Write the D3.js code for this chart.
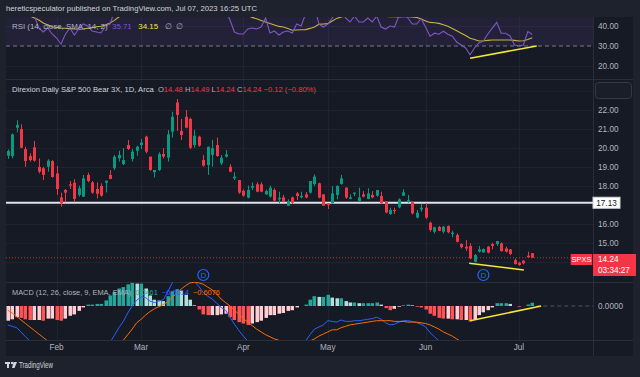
<!DOCTYPE html>
<html><head><meta charset="utf-8">
<script src="https://cdn.jsdelivr.net/npm/d3@7"></script>
<style>html,body{margin:0;padding:0;background:#1e222d;} svg{display:block;font-family:"Liberation Sans",Arial,sans-serif;}</style>
</head><body><svg id="c" width="640" height="377"></svg>
<script>
// ---------- DATA ----------
const opens  = [19.60,19.58,21.07,21.00,19.95,19.58,20.04,19.01,18.94,19.02,19.32,18.67,17.41,17.80,18.10,18.18,17.54,17.45,18.59,18.20,17.85,18.01,18.18,18.59,18.94,19.46,19.16,20.16,19.43,19.86,20.16,20.60,19.55,18.73,18.85,19.69,19.50,20.86,22.40,20.90,21.65,21.53,20.16,20.60,19.37,19.11,19.64,20.16,19.20,19.55,19.02,18.41,18.32,17.76,17.40,17.92,18.10,18.10,17.57,17.45,17.80,17.31,17.41,16.97,17.41,17.62,17.41,17.57,17.66,18.11,18.15,17.57,17.10,17.10,17.54,18.11,17.92,17.33,17.60,17.22,17.57,17.33,17.54,17.50,17.48,17.19,16.54,16.75,16.89,17.50,17.19,17.19,16.35,16.78,16.87,16.08,15.61,15.86,15.61,15.91,15.49,15.44,14.96,14.82,14.86,14.03,14.56,14.52,14.82,14.96,14.96,15.00,14.73,14.68,14.12,13.98,14.09,14.35,14.48];
const highs  = [19.93,20.77,21.46,21.25,20.07,19.72,20.37,19.46,19.02,19.41,19.37,19.06,17.66,17.85,18.27,18.36,18.03,18.59,18.71,18.27,18.20,18.15,18.29,18.85,19.64,19.86,19.99,20.43,19.95,20.13,20.48,20.65,19.55,18.85,19.78,19.99,20.95,21.91,22.58,21.53,22.00,21.60,20.95,20.65,19.64,20.07,20.43,20.55,19.64,19.90,19.15,18.73,18.32,17.83,18.03,18.20,18.20,18.20,17.83,18.03,17.89,17.71,17.54,17.31,17.45,17.69,17.71,17.69,18.27,18.62,18.18,17.57,17.10,18.01,18.05,18.59,17.94,17.57,17.68,17.92,17.74,17.89,17.74,17.80,17.71,17.22,16.87,16.87,17.36,17.83,17.54,17.19,16.75,17.06,17.10,16.14,15.87,15.91,15.91,15.94,15.66,15.52,15.00,15.17,15.00,14.44,14.86,14.73,14.86,15.03,15.12,15.05,14.82,14.70,14.21,14.03,14.12,14.56,14.49];
const lows   = [19.43,19.46,20.83,19.99,19.02,19.29,19.29,18.67,18.32,18.76,18.45,17.54,16.92,17.15,17.85,17.19,17.45,17.43,18.20,17.60,17.36,17.45,17.67,18.36,18.85,19.29,19.11,19.90,19.29,19.60,19.95,19.72,18.80,18.45,18.80,19.46,19.29,20.55,20.90,20.43,21.04,19.95,20.02,20.07,19.02,18.59,19.02,19.55,19.11,19.50,18.73,18.32,17.60,17.45,17.36,17.80,17.68,17.68,17.54,17.40,17.19,17.10,17.15,16.96,17.06,17.27,17.36,17.36,17.62,18.01,17.36,16.97,16.80,17.10,17.31,18.08,17.33,17.31,17.48,17.19,17.41,17.31,17.36,17.45,17.08,16.57,16.49,16.54,16.84,17.48,17.13,16.52,16.31,16.66,16.28,15.61,15.52,15.64,15.52,15.52,15.31,15.05,14.73,14.60,14.16,14.00,14.51,14.51,14.47,14.68,14.86,14.56,14.51,14.38,13.89,13.82,13.89,14.26,14.24];
const closes = [19.85,20.72,21.21,20.02,19.32,19.37,19.34,18.76,18.59,19.34,18.48,17.85,17.10,17.66,18.03,17.33,17.89,18.41,18.27,17.66,17.60,17.50,18.29,18.38,19.55,19.64,19.37,19.95,19.81,20.07,20.29,19.81,18.85,18.85,19.69,19.55,20.72,21.65,21.74,20.69,21.07,20.02,20.65,20.13,19.08,20.07,19.99,19.58,19.50,19.67,18.76,18.50,17.66,17.50,17.80,18.01,17.71,17.71,17.75,17.92,17.24,17.39,17.19,17.19,17.13,17.48,17.50,17.41,18.27,18.50,17.40,16.97,17.01,17.62,18.01,18.41,17.40,17.41,17.66,17.41,17.45,17.62,17.41,17.80,17.10,16.62,16.75,16.69,17.31,17.68,17.27,16.57,16.61,16.87,16.35,15.70,15.84,15.66,15.87,15.58,15.56,15.08,14.79,14.73,14.21,14.38,14.68,14.70,14.51,14.86,15.12,14.59,14.56,14.44,13.91,13.86,13.95,14.26,14.24];

const rsi   = [58,64,66,52,46,46,45,39,37,39,36,34,31,36,39,35.5,38.5,41,40,37.5,37,36.5,40,41,47,48,47,50,48,51,52,50,46,47,51,51,57,64,58,56,57,50,53,51,47,50,51,48.5,47.5,48,43,37,36,36,38.5,39,38.5,39.5,44,36.5,37.5,35.5,37,37.5,36.5,41,40,46,47,50,41,39.5,41,44,47,49,44,42,45,42,42,44,42,45,39.5,38.5,40,39.5,45,47,44,41,41,43.8,39.4,34.9,36.4,35.9,37.4,35.9,34.9,32,30.5,29,25.6,29,31.5,32.5,36,38.9,41.8,36.4,36.4,35,30.5,30,30.5,37.2,35.71];
const rsiMA = [52,51,50,49,47,45,44,43,41.5,40.5,39.5,39.4,39,38.9,38.7,38.5,38.4,38.5,38.9,39.2,39.6,39.9,40.5,41.5,42.8,44.5,45.5,46.5,47.5,48,48.5,49,49,49.5,50,50,50.5,51,51.5,52,52,52,52.2,52.3,52,51.5,51,50.5,50,49.5,49,48,47,46,45.2,44.3,43.6,42.8,42,41.2,40.5,39.8,39.5,38.8,37.9,38,38.1,38.2,38.8,39.5,40.8,41,41.2,42.5,43.8,44.5,45,45.5,46,46.5,46.5,46.5,46,45.5,45,44.8,44.7,44.6,44.5,44.6,44.6,44.5,44.3,43.5,42.5,41.8,41.6,41.3,40.6,39.9,38.8,37.6,36.4,35.2,33.9,33.2,32.5,32.6,32.8,33,33,33,33,33,32.8,32.5,32.6,33.2,34.15];
const macd  = [-0.27,-0.29,-0.31,-0.37,-0.44,-0.50,-0.55,-0.60,-0.66,-0.68,-0.72,-0.78,-0.84,-0.85,-0.84,-0.85,-0.82,-0.77,-0.73,-0.72,-0.71,-0.70,-0.63,-0.52,-0.42,-0.31,-0.22,-0.10,0.00,0.08,0.13,0.12,0.07,0.05,0.07,0.09,0.20,0.33,0.42,0.46,0.45,0.42,0.35,0.28,0.19,0.14,0.10,0.04,-0.02,-0.06,-0.16,-0.26,-0.35,-0.43,-0.50,-0.53,-0.56,-0.58,-0.58,-0.57,-0.60,-0.60,-0.61,-0.60,-0.60,-0.56,-0.53,-0.50,-0.41,-0.33,-0.30,-0.27,-0.21,-0.22,-0.23,-0.20,-0.22,-0.22,-0.21,-0.21,-0.20,-0.19,-0.18,-0.16,-0.19,-0.24,-0.27,-0.26,-0.23,-0.21,-0.21,-0.22,-0.24,-0.26,-0.30,-0.38,-0.44,-0.50,-0.55,-0.58,-0.62,-0.66,-0.71,-0.74,-0.80,-0.80,-0.77,-0.74,-0.72,-0.68,-0.62,-0.61,-0.60,-0.60,-0.63,-0.64,-0.63,-0.60,-0.5614];
const signal= [-0.06,-0.10,-0.15,-0.20,-0.25,-0.30,-0.35,-0.40,-0.45,-0.50,-0.54,-0.58,-0.63,-0.67,-0.70,-0.73,-0.75,-0.75,-0.75,-0.74,-0.74,-0.73,-0.71,-0.67,-0.62,-0.56,-0.49,-0.41,-0.33,-0.24,-0.19,-0.13,-0.08,-0.04,-0.01,0.02,0.06,0.12,0.18,0.24,0.29,0.33,0.34,0.33,0.31,0.27,0.23,0.17,0.10,0.05,0.00,-0.06,-0.12,-0.18,-0.23,-0.28,-0.33,-0.37,-0.41,-0.44,-0.47,-0.49,-0.51,-0.53,-0.54,-0.54,-0.53,-0.52,-0.50,-0.47,-0.43,-0.40,-0.37,-0.34,-0.34,-0.31,-0.29,-0.27,-0.26,-0.25,-0.24,-0.23,-0.22,-0.21,-0.21,-0.21,-0.21,-0.22,-0.22,-0.22,-0.23,-0.23,-0.23,-0.24,-0.25,-0.27,-0.30,-0.33,-0.37,-0.40,-0.43,-0.47,-0.51,-0.54,-0.58,-0.61,-0.64,-0.65,-0.66,-0.66,-0.66,-0.65,-0.64,-0.63,-0.63,-0.63,-0.63,-0.62,-0.6076];
const hist  = [-0.21,-0.19,-0.16,-0.17,-0.19,-0.20,-0.20,-0.20,-0.21,-0.18,-0.18,-0.20,-0.21,-0.18,-0.14,-0.12,-0.07,-0.02,0.02,0.02,0.03,0.03,0.08,0.15,0.20,0.25,0.27,0.31,0.33,0.32,0.32,0.25,0.15,0.09,0.08,0.07,0.14,0.21,0.24,0.22,0.16,0.09,0.01,-0.05,-0.12,-0.13,-0.13,-0.13,-0.12,-0.11,-0.16,-0.20,-0.23,-0.25,-0.27,-0.25,-0.23,-0.21,-0.17,-0.13,-0.13,-0.11,-0.10,-0.07,-0.06,-0.02,0.00,0.02,0.09,0.14,0.13,0.13,0.16,0.12,0.11,0.11,0.07,0.05,0.05,0.04,0.04,0.04,0.04,0.05,0.02,-0.03,-0.06,-0.04,-0.01,0.01,0.02,0.01,-0.01,-0.02,-0.05,-0.11,-0.14,-0.17,-0.18,-0.18,-0.19,-0.19,-0.20,-0.20,-0.22,-0.19,-0.13,-0.09,-0.06,-0.02,0.04,0.04,0.04,0.03,0.00,-0.01,0.00,0.02,0.0461];

const monthLabels = ["Feb","Mar","Apr","May","Jun","Jul"];
const monthIdx    = [11,30,53,72,94,115];
const priceTicks  = [14,15,16,17,18,19,20,21,22,23];
const rsiTicks    = [20,30,40];
const hLevel      = 17.13;
const lastPrice   = 14.24;
const dividendIdx = [44,107];
const rsiTrend    = [[104,23.9],[119,30.0]];
const priceTrend  = [[103.8,13.95],[116.1,13.60]];
const macdTrend   = [[104,-0.21],[120,0.0]];

// ---------- LAYOUT ----------
const svg = d3.select("#c");
const W = 640, H = 377;
const L = 6, PR = 593, R = 633;
const rsiTop = 17, rsiBot = 79, mainBot = 282, macdBot = 340, axisBot = 356;
const bgFrame = "#1e222d", bgChart = "#161a25", gridC = "#1f2330", txt = "#b2b5be";
const up = "#089981", dn = "#f23645";

svg.append("rect").attr("width",W).attr("height",H).attr("fill",bgFrame);
svg.append("rect").attr("x",L).attr("y",rsiTop).attr("width",R-L).attr("height",axisBot-rsiTop).attr("fill",bgChart);

const x = d3.scaleLinear().domain([0,118]).range([7.7,532.3]);
const yP = d3.scaleLinear().domain([15,22]).range([243.3,110]);
const yR = d3.scaleLinear().domain([20,40]).range([66,26]);
const yM = d3.scaleLinear().domain([0,1]).range([306,236]);

const defs = svg.append("defs");
function clip(id,y0,y1){defs.append("clipPath").attr("id",id).append("rect").attr("x",L).attr("y",y0).attr("width",PR-L).attr("height",y1-y0);}
clip("cR",rsiTop,rsiBot); clip("cP",rsiBot,mainBot); clip("cM",mainBot,macdBot);

// vertical grid
svg.append("g").selectAll("line").data(monthIdx).join("line")
  .attr("x1",d=>Math.round(x(d))+0.5).attr("x2",d=>Math.round(x(d))+0.5).attr("y1",rsiTop).attr("y2",macdBot)
  .attr("stroke",gridC).attr("stroke-width",1);
// horizontal grids
const gP = svg.append("g").attr("clip-path","url(#cP)");
gP.selectAll("line").data(priceTicks).join("line").attr("x1",L).attr("x2",PR)
  .attr("y1",d=>Math.round(yP(d))+0.5).attr("y2",d=>Math.round(yP(d))+0.5).attr("stroke",gridC);
const gR = svg.append("g").attr("clip-path","url(#cR)");
gR.selectAll("line").data([20,40]).join("line").attr("x1",L).attr("x2",PR)
  .attr("y1",d=>Math.round(yR(d))+0.5).attr("y2",d=>Math.round(yR(d))+0.5).attr("stroke",gridC);

// pane separators
[rsiBot,mainBot,macdBot].forEach(v=>svg.append("line").attr("x1",L).attr("x2",R).attr("y1",v+0.5).attr("y2",v+0.5).attr("stroke","#2a2e39"));
svg.append("line").attr("x1",PR+0.5).attr("x2",PR+0.5).attr("y1",rsiTop).attr("y2",axisBot).attr("stroke","#2a2e39");

// ---------- RSI ----------
gR.append("rect").attr("x",L).attr("width",PR-L).attr("y",yR(70)).attr("height",yR(30)-yR(70)).attr("fill","rgba(126,87,194,0.12)");
gR.append("line").attr("x1",L).attr("x2",PR).attr("y1",yR(30)).attr("y2",yR(30)).attr("stroke","#787b86").attr("stroke-dasharray","4,3");
gR.append("path").datum(rsiMA).attr("fill","none").attr("stroke","#c9b43a").attr("stroke-width",1.1)
  .attr("d",d3.line().x((d,i)=>x(i)).y(d=>yR(d)));
gR.append("path").datum(rsi).attr("fill","none").attr("stroke","#7e57c2").attr("stroke-width",1.1)
  .attr("d",d3.line().x((d,i)=>x(i)).y(d=>yR(d)));
gR.append("line").attr("x1",x(rsiTrend[0][0])).attr("y1",yR(rsiTrend[0][1])).attr("x2",x(rsiTrend[1][0])).attr("y2",yR(rsiTrend[1][1]))
  .attr("stroke","#f5e83a").attr("stroke-width",1.6);

// ---------- PRICE ----------
gP.append("line").attr("x1",L).attr("x2",PR).attr("y1",yP(lastPrice)).attr("y2",yP(lastPrice)).attr("stroke",dn).attr("stroke-dasharray","1,2").attr("opacity",0.8);
gP.append("line").attr("x1",L).attr("x2",PR).attr("y1",yP(hLevel)).attr("y2",yP(hLevel)).attr("stroke","#e0e3eb").attr("stroke-width",2);
const cg = gP.append("g");
const idx = d3.range(closes.length);
cg.selectAll("line.w").data(idx).join("line").attr("class","w")
  .attr("x1",i=>Math.round(x(i))+0.5).attr("x2",i=>Math.round(x(i))+0.5)
  .attr("y1",i=>yP(highs[i])).attr("y2",i=>yP(lows[i]))
  .attr("stroke",i=>closes[i]>=opens[i]?up:dn);
cg.selectAll("rect.b").data(idx).join("rect").attr("class","b")
  .attr("x",i=>Math.round(x(i))-1).attr("width",3)
  .attr("y",i=>yP(Math.max(opens[i],closes[i])))
  .attr("height",i=>Math.max(1,Math.abs(yP(opens[i])-yP(closes[i]))))
  .attr("fill",i=>closes[i]>=opens[i]?up:dn);
gP.append("line").attr("x1",x(priceTrend[0][0])).attr("y1",yP(priceTrend[0][1])).attr("x2",x(priceTrend[1][0])).attr("y2",yP(priceTrend[1][1]))
  .attr("stroke","#f5e83a").attr("stroke-width",1.6);
// dividends
const dg = svg.append("g");
dividendIdx.forEach(i=>{
  dg.append("circle").attr("cx",x(i)).attr("cy",mainBot-7).attr("r",5.5).attr("fill","none").attr("stroke","#2962ff").attr("stroke-width",1.2);
  dg.append("text").attr("x",x(i)).attr("y",mainBot-7).attr("dy","0.35em").attr("text-anchor","middle").attr("fill","#2962ff").attr("font-size",8).text("D");
});

// ---------- MACD ----------
const gM = svg.append("g").attr("clip-path","url(#cM)");
gM.append("line").attr("x1",x(118)+4).attr("x2",PR).attr("y1",yM(0)).attr("y2",yM(0)).attr("stroke","#50535e").attr("stroke-dasharray","4,3");
gM.selectAll("rect").data(idx).join("rect")
  .attr("x",i=>Math.round(x(i))-1.5).attr("width",3.5)
  .attr("y",i=>Math.min(yM(0),yM(hist[i])))
  .attr("height",i=>Math.abs(yM(hist[i])-yM(0)))
  .attr("fill",i=>{const h=hist[i],p=i>0?hist[i-1]:h; return h>=0?(h>=p?"#26a69a":"#b2dfdb"):(h<p?"#ff5252":"#ffcdd2");});
gM.append("path").datum(macd).attr("fill","none").attr("stroke","#2962ff").attr("stroke-width",1)
  .attr("d",d3.line().x((d,i)=>x(i)).y(d=>yM(d)));
gM.append("path").datum(signal).attr("fill","none").attr("stroke","#ff6d00").attr("stroke-width",1)
  .attr("d",d3.line().x((d,i)=>x(i)).y(d=>yM(d)));
gM.append("line").attr("x1",x(macdTrend[0][0])).attr("y1",yM(macdTrend[0][1])).attr("x2",x(macdTrend[1][0])).attr("y2",yM(macdTrend[1][1]))
  .attr("stroke","#f5e83a").attr("stroke-width",1.6);

// ---------- AXES / LABELS ----------
const ax = svg.append("g").attr("font-size",8.2).attr("fill",txt);
const hiddenNear = [yP(hLevel), yP(lastPrice)+5, 90];
priceTicks.filter(v=>hiddenNear.every(h=>Math.abs(yP(v)-h)>9)).forEach(v=>
  ax.append("text").attr("x",598).attr("y",yP(v)).attr("dy","0.35em").text(v.toFixed(2)));
rsiTicks.forEach(v=>ax.append("text").attr("x",598).attr("y",yR(v)).attr("dy","0.35em").text(v.toFixed(2)));
ax.append("text").attr("x",598).attr("y",yM(0)).attr("dy","0.35em").text((0).toFixed(4));
monthLabels.forEach((m,k)=>ax.append("text").attr("x",x(monthIdx[k])).attr("y",347).attr("dy","0.35em").attr("text-anchor","middle").text(m));

// top-right empty label box
svg.append("rect").attr("x",595.5).attr("y",82.5).attr("width",36).attr("height",16).attr("rx",3).attr("fill","#1a1e29").attr("stroke","#363a45");
// 17.13 label
svg.append("rect").attr("x",593).attr("y",yP(hLevel)-5.5).attr("width",27).attr("height",11).attr("fill","#ffffff").attr("stroke","#d1d4dc");
svg.append("text").attr("x",606.5).attr("y",yP(hLevel)).attr("dy","0.35em").attr("text-anchor","middle").attr("font-size",8.2).attr("fill","#131722").text(hLevel.toFixed(2));
// last price labels
svg.append("rect").attr("x",570.7).attr("y",254).attr("width",21.5).attr("height",11).attr("fill",dn);
svg.append("text").attr("x",581.5).attr("y",259.5).attr("dy","0.35em").attr("text-anchor","middle").attr("font-size",7.5).attr("fill","#fff").text("SPXS");
svg.append("rect").attr("x",593).attr("y",254).attr("width",43).attr("height",22).attr("fill",dn);
svg.append("text").attr("x",598).attr("y",259.5).attr("dy","0.35em").attr("font-size",8.2).attr("fill","#fff").text(lastPrice.toFixed(2));
svg.append("text").attr("x",598).attr("y",270.5).attr("dy","0.35em").attr("font-size",8.2).attr("fill","#fff").text("03:34:27");

// legends (one text element per legend line, flowing tspans)
const lg = svg.append("g").attr("font-size",8);
lg.append("text").attr("x",6).attr("y",8).attr("dy","0.35em").attr("fill","#d1d4dc").attr("textLength",251).attr("lengthAdjust","spacingAndGlyphs")
  .text("hereticspeculator published on TradingView.com, Jul 07, 2023 16:25 UTC");
function legend(y, parts, fs){
  const t = lg.append("text").attr("x",12).attr("y",y).attr("dy","0.35em").attr("xml:space","preserve").style("white-space","pre");
  if(fs) t.attr("font-size",fs);
  parts.forEach(([s,c])=>t.append("tspan").attr("fill",c).text(s));
  return t;
}
const fmt = (v,d)=> (v<0?"−":"")+Math.abs(v).toFixed(d);
const n = closes.length-1, chg = -0.12, pct = -0.80;
legend(26,[["RSI (14, close, SMA, 14, 2)  ",txt],[fmt(rsi[n],2)+"   ","#7e57c2"],[fmt(rsiMA[n],2)+"   ","#f5e83a"],["∅  ∅",txt]],7.9);
const mainParts = [["Direxion Daily S&P 500 Bear 3X, 1D, Arca  ","#d1d4dc"]];
[["O",opens[n]],["H",highs[n]],["L",lows[n]],["C",closes[n]]].forEach(([k,v])=>{ mainParts.push([k,txt]); mainParts.push([v.toFixed(2)+" ",dn]); });
mainParts.push([fmt(chg,2)+" ("+fmt(pct,2)+"%)",dn]);
legend(89,mainParts,7.6);
legend(292,[["MACD (12, 26, close, 9, EMA, EMA)  ",txt],[fmt(hist[n],4)+"  ","#26a69a"],[fmt(macd[n],4)+"  ","#2962ff"],[fmt(signal[n],4),"#ff6d00"]],7.4);

// footer logo
const fg = svg.append("g").attr("fill","#d1d4dc");
fg.append("rect").attr("x",5).attr("y",362).attr("width",5).attr("height",2);
fg.append("rect").attr("x",7).attr("y",362).attr("width",2).attr("height",6);
fg.append("circle").attr("cx",12).attr("cy",363).attr("r",1.2);
fg.append("path").attr("d","M13.5 362 L17 362 L14.5 368 L12 368 Z");
fg.append("text").attr("x",19).attr("y",365.5).attr("dy","0.35em").attr("font-size",8.5).attr("textLength",34).attr("lengthAdjust","spacingAndGlyphs").text("TradingView");
</script></body></html>
